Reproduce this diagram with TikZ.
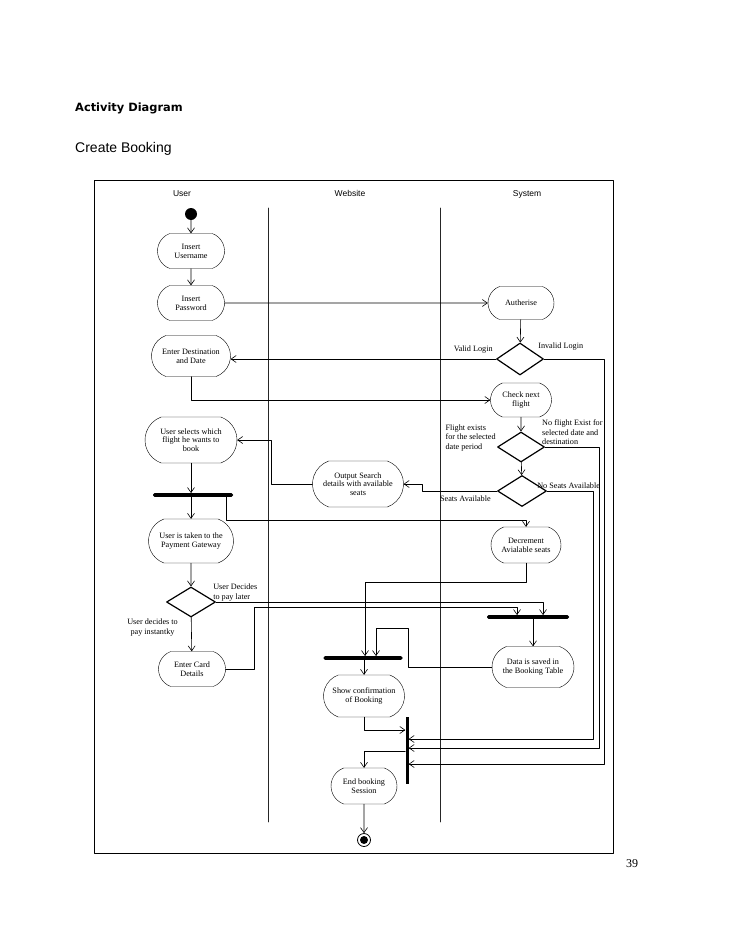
\documentclass[tikz,border=0pt]{standalone}
\usepackage{fontspec}
\setmainfont{Liberation Serif}
\setsansfont{Liberation Sans}
\newfontfamily\titlefont{DejaVu Sans}
\usepackage{tikz}
\usetikzlibrary{arrows.meta}
\usetikzlibrary{shapes.geometric,shapes.misc}
\usetikzlibrary{positioning}

\tikzset{
  act/.style 2 args={draw, rounded rectangle, rounded rectangle arc length=140, align=center, inner sep=1pt, minimum width=#1, minimum height=#2, font=\fontsize{8.2}{8.8}\selectfont},
  dec/.style 2 args={draw, diamond, line width=1.2pt, inner sep=0pt, minimum width=#1, minimum height=#2},
  hbar/.style={fill, rounded corners=1.5pt, inner sep=0pt, minimum width=#1, minimum height=3.6pt},
  vbar/.style={fill, inner sep=0pt, minimum width=3pt, minimum height=#1},
  note/.style={inner sep=1pt, align=left, font=\fontsize{8.2}{9.6}\selectfont},
  lane/.style={anchor=base, font=\sffamily\fontsize{8.5}{10}\selectfont},
  flow/.style={->, line width=0.6pt}
}

\begin{document}
\begin{tikzpicture}[x=1pt, y=-1pt, line cap=round, line join=round, >={Straight Barb[length=5pt,width=7pt]}]
      \useasboundingbox (0,0) rectangle (728,942);
      \node[anchor=base west, inner sep=0pt, font=\titlefont\bfseries\fontsize{11.4}{13}\selectfont] (title) at (75,111) {Activity Diagram};
      \node[anchor=base west, inner sep=0pt, font=\sffamily\fontsize{14}{16}\selectfont] (subtitle) at (75,152) {Create Booking};
      \node[anchor=base, inner sep=0pt, font=\fontsize{12}{14}\selectfont] (page) at (632,867) {39};
      \draw[line width=0.9pt] (94,180) rectangle (613,853);
      \foreach \x/\name in {182/User, 350/Website, 527/System}
      \node[lane] at (\x,196) {\name};
      \foreach \x in {268,440}
      \draw[line width=0.6pt, color=black!85] (\x,208) -- (\x,822);
      \node[fill, circle, inner sep=0pt, minimum size=12pt] (start) at (191,214) {};
      \node[act={69pt}{35pt}] (uname) at (191,251) {Insert\\Username};
      \node[act={69pt}{35pt}] (pwd) at (191,303) {Insert\\Password};
      \node[act={81pt}{41pt}] (dest) at (191,356) {Enter Destination\\and Date};
      \node[act={94pt}{46pt}] (select) at (191,440) {User selects which\\flight he wants to\\book};
      \node[hbar=80pt] (forkU) at (193,495) {};
      \node[act={87pt}{44pt}] (gate) at (191,541) {User is taken to the\\Payment Gateway};
      \node[dec={49pt}{30pt}] (pay) at (191,602) {};
      \node[act={69pt}{35pt}] (card) at (192,669) {Enter Card\\Details};
      \node[act={93pt}{46pt}] (output) at (358,484) {Output Search\\details with available\\seats};
      \node[hbar=79pt] (forkW) at (363,658) {};
      \node[act={83pt}{42pt}] (confirm) at (364,696) {Show confirmation\\of Booking};
      \node[vbar=67pt] (joinW) at (407,750) {};
      \node[act={68pt}{36pt}] (endsess) at (364,786) {End booking\\Session};
      \node[draw, circle, inner sep=0pt, minimum size=13pt, line width=0.8pt] (final) at (364,840) {};
      \node[fill, circle, inner sep=0pt, minimum size=8pt] (finaldot) at (final) {};
      \node[act={68pt}{33pt}] (auth) at (521,303) {Autherise};
      \node[dec={47pt}{32pt}] (login) at (520,359) {};
      \node[act={63pt}{34pt}] (check) at (521,400) {Check next\\flight};
      \node[dec={47pt}{30pt}] (exists) at (521,447) {};
      \node[dec={49pt}{31pt}] (seats) at (522,491) {};
      \node[act={72pt}{36pt}] (decr) at (526,545) {Decrement\\Avialable seats};
      \node[hbar=82pt] (forkS) at (528,617) {};
      \node[act={84pt}{41pt}] (saved) at (533,667) {Data is saved in\\the Booking Table};
      \node[note, anchor=south east] (validlbl) at ([xshift=-2pt,yshift=5pt]login.west) {Valid Login};
      \node[note, anchor=south west] (invalidlbl) at ([xshift=-7pt,yshift=8pt]login.east) {Invalid Login};
      \node[note, anchor=east] (existslbl) at ([yshift=9pt]exists.west) {Flight exists\\for the selected\\date period};
      \node[note, anchor=west] (noflightlbl) at ([xshift=20pt,yshift=-1pt]exists.north) {No flight Exist for\\selected date and\\destination};
      \node[note, anchor=south west] (noseatslbl) at ([xshift=-11pt,yshift=1pt]seats.east) {No Seats Available};
      \node[note, anchor=north east] (seatslbl) at ([xshift=-5pt,yshift=-4pt]seats.west) {Seats Available};
      \node[note, anchor=south west] (laterlbl) at ([xshift=-4pt]pay.east) {User Decides\\to pay later};
      \node[note, align=center, below left=0pt and 12pt of pay.south] (instantlbl) {User decides to\\pay instantky};
      \draw[flow] (start) -- (uname);
      \draw[flow] (uname) -- (pwd);
      \draw[flow] (pwd) -- (auth);
      \draw[flow] (auth) -- (login);
      \draw[flow] (login.west) -- (login.west -| dest.east);
      \draw[flow] (dest.south) |- (check.west);
      \draw[flow] (check) -- (exists);
      \draw[flow] (exists) -- (seats);
      \draw[flow] (seats.west) -- ++(-75,0) |- (output.east);
      \draw[flow] (output.west) -- ++(-41,0) |- (select.east);
      \draw[flow] (select.south) -- (select.south |- forkU.north);
      \draw[flow] (forkU.south -| gate.north) -- (gate.north);
      \draw[flow] ([xshift=33pt]forkU.center) |- ([yshift=7pt]decr.north) -- (decr.north);
      \draw[flow] (gate) -- (pay);
      \draw[flow] (pay) -- (card);
      \draw[flow] (pay.east) -| ([xshift=15pt]forkS.north);
      \draw[flow] (card.east) -- ++(29,0) -- ++(0,-62) -| ([xshift=-11pt]forkS.north);
      \draw[flow] (decr.south) -- ++(0,19) -| ([xshift=2pt]forkW.north);
      \draw[flow] (forkS.south -| saved.north) -- (saved.north);
      \draw[flow] (saved.west) -- ++(-84,0) -- ++(0,-39) -| ([xshift=13pt]forkW.north);
      \draw[flow] (forkW.south -| confirm.north) -- (confirm.north);
      \draw[flow] (confirm.south) |- ([yshift=20pt]joinW.west);
      \draw[flow] (login.east) -- ++(60,0) |- ([yshift=-14pt]joinW.east);
      \draw[flow] (exists.east) -- ++(54,0) |- ([yshift=2pt]joinW.east);
      \draw[flow] (seats.east) -- ++(46,0) |- ([yshift=11pt]joinW.east);
      \draw[flow] ([yshift=-1pt]joinW.west) -| (endsess.north);
      \draw[flow] (endsess) -- (final);
    \end{tikzpicture}
\end{document}
